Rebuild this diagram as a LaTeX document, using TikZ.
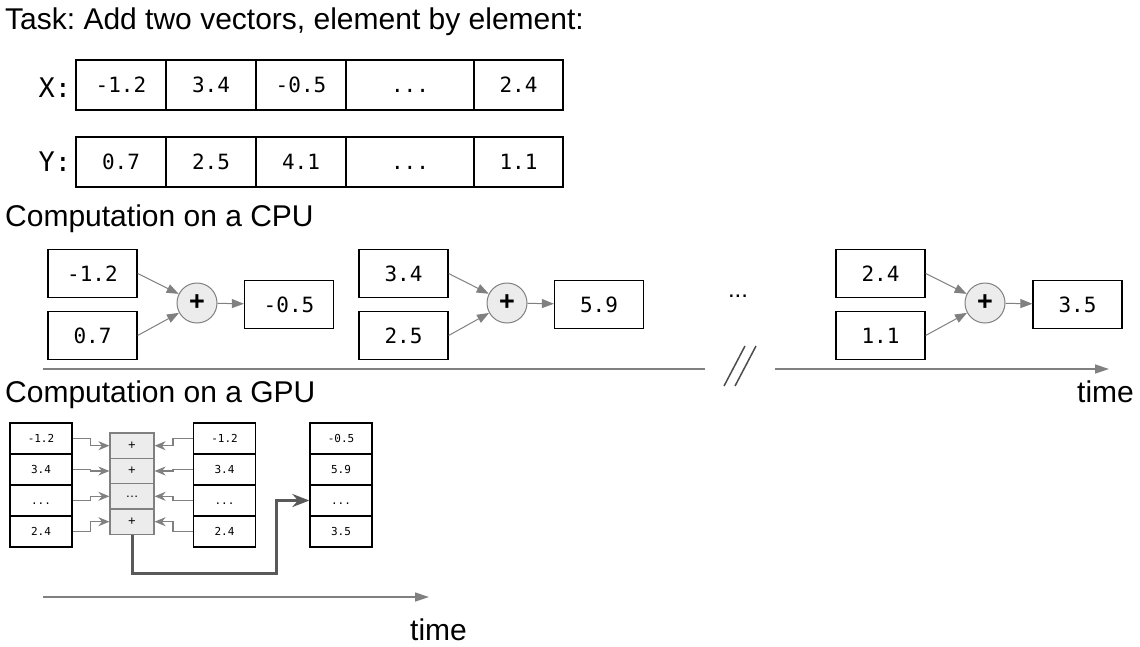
\documentclass[tikz,border=0pt]{standalone}
\usepackage{fontspec}
\setmainfont{Liberation Sans}
\setmonofont{DejaVu Sans Mono}
\usetikzlibrary{arrows.meta}
\frenchspacing
\tikzstyle{text_head} = [anchor=base west, inner sep=0pt, font=\fontsize{30}{34}\selectfont]
\tikzstyle{text_vec} = [inner sep=0pt, font=\ttfamily\fontsize{27}{30}\selectfont]
\tikzstyle{cell_vec} = [rectangle, draw, line width=1.3pt, minimum width=90pt, minimum height=50pt, inner sep=0pt, text height=15.3pt, text depth=0pt, font=\ttfamily\fontsize{21}{24}\selectfont]
\tikzstyle{cell_wide} = [cell_vec, minimum width=128pt]
\tikzstyle{cell_cpu} = [rectangle, draw, line width=1.3pt, minimum width=89pt, minimum height=48pt, inner sep=0pt, text height=15.3pt, text depth=0pt, font=\ttfamily\fontsize{21}{24}\selectfont]
\tikzstyle{node_plus} = [circle, draw=gray, line width=1pt, fill=gray!15, minimum size=40pt, inner sep=0pt, font=\bfseries\fontsize{27}{28}\selectfont]
\tikzstyle{cell_gpu} = [rectangle, draw, line width=1.2pt, minimum width=62pt, minimum height=31pt, inner sep=0pt, text height=8pt, text depth=0pt, font=\ttfamily\fontsize{11}{13}\selectfont]
\tikzstyle{cell_gpuplus} = [rectangle, draw=gray, fill=gray!15, line width=1.2pt, minimum width=44pt, minimum height=25.3pt, inner sep=0pt, font=\fontsize{13}{14}\selectfont]
\tikzstyle{edge_cpu} = [draw=gray, line width=1pt, -{Triangle[length=12pt,width=9pt]}]
\tikzstyle{edge_gpu} = [draw=gray, line width=1.5pt, -{Stealth[length=11pt,width=9pt]}]
\tikzstyle{edge_result} = [draw=black!65, line width=3pt, -{Stealth[length=17pt,width=13pt]}]
\tikzstyle{edge_time} = [draw=gray, line width=1.5pt]
\tikzstyle{edge_break} = [draw=black!70, line width=1.5pt]

\begin{document}
\begin{tikzpicture}[x=1pt, y=-1pt]
			\useasboundingbox (0,0) rectangle (1140,646);

			% task
			\node (task) at (5,29) [text_head] {Task: Add two vectors, element by element:};
			\node (labx) at (55,88) [text_vec] {X:};
			\node (laby) at (55,162) [text_vec] {Y:};
			\node (X1) at (121,85) [cell_vec] {-1.2};
			\node (X2) at (211,85) [cell_vec] {3.4};
			\node (X3) at (301,85) [cell_vec] {-0.5};
			\node (X4) at (410,85) [cell_wide] {...};
			\node (X5) at (518.5,85) [cell_vec, minimum width=89pt] {2.4};
			\node (Y1) at (121,162) [cell_vec] {0.7};
			\node (Y2) at (211,162) [cell_vec] {2.5};
			\node (Y3) at (301,162) [cell_vec] {4.1};
			\node (Y4) at (410,162) [cell_wide] {...};
			\node (Y5) at (518.5,162) [cell_vec, minimum width=89pt] {1.1};

			% cpu
			\node (cpu) at (5,226) [text_head] {Computation on a CPU};
			\node (CA1) at (92.5,273.5) [cell_cpu] {-1.2};
			\node (CB1) at (92.5,335.5) [cell_cpu] {0.7};
			\node (CP1) at (197,303) [node_plus] {+};
			\node (CS1) at (289,304.5) [cell_cpu] {-0.5};
			\node (CA2) at (403.5,273.5) [cell_cpu] {3.4};
			\node (CB2) at (403.5,335.5) [cell_cpu] {2.5};
			\node (CP2) at (507,303) [node_plus] {+};
			\node (CS2) at (599,304.5) [cell_cpu] {5.9};
			\node (CDOTS) at (738,296) [font=\fontsize{24}{26}\selectfont] {...};
			\node (CA3) at (880.5,273.5) [cell_cpu] {2.4};
			\node (CB3) at (880.5,335.5) [cell_cpu] {1.1};
			\node (CP3) at (985,303) [node_plus] {+};
			\node (CS3) at (1077.5,304.5) [cell_cpu] {3.5};

			\draw[edge_cpu] (CA1.east)--(CP1); \draw[edge_cpu] (CB1.east)--(CP1); \draw[edge_cpu] (CP1)--(CS1);
			\draw[edge_cpu] (CA2.east)--(CP2); \draw[edge_cpu] (CB2.east)--(CP2); \draw[edge_cpu] (CP2)--(CS2);
			\draw[edge_cpu] (CA3.east)--(CP3); \draw[edge_cpu] (CB3.east)--(CP3); \draw[edge_cpu] (CP3)--(CS3);

			\coordinate (T1) at (43,369);
			\coordinate (T2) at (705,369);
			\coordinate (T3) at (775,369);
			\coordinate (T4) at (1109,369);
			\draw[edge_time] (T1)--(T2);
			\draw[edge_time, -{Triangle[length=14pt,width=9pt]}] (T3)--(T4);
			\draw[edge_break] (724,386)--(745,346) (735,386)--(756,346);
			\node (time1) at (1077,402) [text_head] {time};

			% gpu
			\node (gpu) at (5,402) [text_head] {Computation on a GPU};
			\node (GL1) at (41,438.5) [cell_gpu] {-1.2};
			\node (GL2) at (41,469.5) [cell_gpu] {3.4};
			\node (GL3) at (41,500.5) [cell_gpu] {...};
			\node (GL4) at (41,531.5) [cell_gpu] {2.4};
			\node (GP1) at (132,445.7) [cell_gpuplus] {+};
			\node (GP2) at (132,471) [cell_gpuplus] {+};
			\node (GP3) at (132,496.3) [cell_gpuplus] {\ldots};
			\node (GP4) at (132,521.7) [cell_gpuplus] {+};
			\node (GR1) at (224.5,438.5) [cell_gpu] {-1.2};
			\node (GR2) at (224.5,469.5) [cell_gpu] {3.4};
			\node (GR3) at (224.5,500.5) [cell_gpu] {...};
			\node (GR4) at (224.5,531.5) [cell_gpu] {2.4};
			\node (GS1) at (341,438.5) [cell_gpu] {-0.5};
			\node (GS2) at (341,469.5) [cell_gpu] {5.9};
			\node (GS3) at (341,500.5) [cell_gpu] {...};
			\node (GS4) at (341,531.5) [cell_gpu] {3.5};

			\draw[edge_gpu] (GL1.east)--++(18,0)|-(GP1.west);
			\draw[edge_gpu] (GL2.east)--++(18,0)|-(GP2.west);
			\draw[edge_gpu] (GL3.east)--++(18,0)|-(GP3.west);
			\draw[edge_gpu] (GL4.east)--++(18,0)|-(GP4.west);
			\draw[edge_gpu] (GR1.west)--++(-20,0)|-(GP1.east);
			\draw[edge_gpu] (GR2.west)--++(-20,0)|-(GP2.east);
			\draw[edge_gpu] (GR3.west)--++(-20,0)|-(GP3.east);
			\draw[edge_gpu] (GR4.west)--++(-20,0)|-(GP4.east);

			\coordinate (turn) at (276,573);
			\draw[edge_result] (GP4.south)|-(turn)|-(GS3.west);

			\coordinate (U1) at (43,597);
			\coordinate (U2) at (429,597);
			\draw[edge_time, -{Triangle[length=14pt,width=9pt]}] (U1)--(U2);
			\node (time2) at (410,640) [text_head] {time};
		\end{tikzpicture}
\end{document}
